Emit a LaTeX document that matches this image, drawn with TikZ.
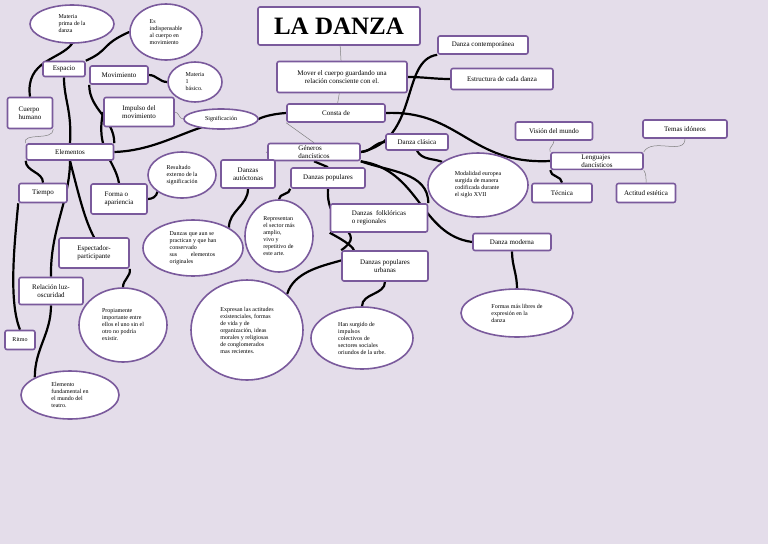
\documentclass[tikz,border=0pt]{standalone}
\usepackage{fontspec}
\setmainfont{Liberation Serif}
\usetikzlibrary{shapes.geometric}
\definecolor{bg}{HTML}{E4DDEA}
\definecolor{pur}{HTML}{7A5A9C}
\pgfdeclarelayer{back}\pgfdeclarelayer{edges}
\pgfsetlayers{back,edges,main}
\begin{document}
\begin{tikzpicture}[x=1pt,y=-1pt,
 bx/.style={draw=pur,line width=1.6pt,fill=white,rounded corners=2pt,font=\fontsize{7}{8}\selectfont,align=center,inner sep=2pt},
 el/.style={ellipse,draw=pur,line width=1.6pt,fill=white,font=\fontsize{6}{7}\selectfont,align=left,inner sep=0pt},
 tk/.style={line width=2.2pt,black},
 tn/.style={line width=0.5pt,gray}]
\begin{pgfonlayer}{back}
\fill[bg] (0,0) rectangle (768,544);
\end{pgfonlayer}
\useasboundingbox (0,0) rectangle (768,544);
% top
\node[bx,minimum width=162,minimum height=38,font=\fontsize{25}{27}\selectfont\bfseries] (title) at (339,26) {LA DANZA};
\node[bx,minimum width=130,minimum height=31] (mover) at (342,77) {Mover el cuerpo guardando una\\relación consciente con el.};
\node[bx,minimum width=98,minimum height=18] (consta) at (336,113) {Consta de};
\node[bx,minimum width=92,minimum height=16,align=left] (generos) at (314,152) {Géneros\\dancísticos};
\node[bx,minimum width=90,minimum height=18] (contemp) at (483,45) {Danza contemporánea};
\node[bx,minimum width=102,minimum height=21] (estruct) at (502,79) {Estructura de cada danza};
\node[bx,minimum width=62,minimum height=16] (clasica) at (417,142) {Danza clásica};
\node[el,minimum width=100,minimum height=64] (modal) at (478,185) {Modalidad europea\\surgida de manera\\codificada durante\\el siglo XVII};
\node[bx,minimum width=77,minimum height=18] (vision) at (554,131) {Visión del mundo};
\node[bx,minimum width=84,minimum height=18] (temas) at (685,129) {Temas idóneos};
\node[bx,minimum width=92,minimum height=15,align=left] (leng) at (597,161) {Lenguajes\\dancísticos};
\node[bx,minimum width=60,minimum height=19] (tecnica) at (562,193) {Técnica};
\node[bx,minimum width=59,minimum height=19] (actitud) at (646,193) {Actitud estética};
\node[bx,minimum width=78,minimum height=17] (moderna) at (512,242) {Danza moderna};
\node[el,minimum width=112,minimum height=48] (formas) at (517,313) {Formas más libres de\\ expresión en la\\danza};
\node[bx,minimum width=54,minimum height=28] (autoc) at (248,174) {Danzas\\autóctonas};
\node[bx,minimum width=74,minimum height=20] (popul) at (328,178) {Danzas populares};
\node[bx,minimum width=97,minimum height=28,align=left] (folk) at (379,218) {Danzas\ \ folklóricas\\o regionales};
\node[bx,minimum width=86,minimum height=30] (urb) at (385,266) {Danzas populares\\urbanas};
\node[el,minimum width=68,minimum height=72] (repr) at (279,236) {Representan\\el sector más\\ amplio,\\vivo y\\repetitivo de\\este arte.};
\node[el,minimum width=100,minimum height=56] (aun) at (193,248) {Danzas que aun se\\practican y que han\\conservado\\sus \quad\quad elementos\\originales};
\node[el,minimum width=112,minimum height=100] (expr) at (247,330) {Expresan las actitudes\\ existenciales, formas\\de vida y de\\organización, ideas\\morales y religiosas\\de conglomerados\\mas recientes.};
\node[el,minimum width=102,minimum height=62] (han) at (362,338) {Han surgido de\\impulsos\\colectivos de\\sectores sociales\\oriundos de la urbe.};
% left
\node[bx,minimum width=87,minimum height=16] (elem) at (70,152) {Elementos};
\node[bx,minimum width=45,minimum height=31,align=left] (cuerpo) at (30,113) {Cuerpo\\humano};
\node[bx,minimum width=42,minimum height=15] (espacio) at (64,69) {Espacio};
\node[bx,minimum width=58,minimum height=18] (movim) at (119,75) {Movimiento};
\node[el,minimum width=84,minimum height=38] (mprima) at (72,24) {Materia\\prima de la\\danza};
\node[el,minimum width=72,minimum height=56] (indisp) at (166,32) {Es\\indispensable\\al cuerpo en\\movimiento};
\node[el,minimum width=54,minimum height=40] (m1) at (195,82) {Materia\\1\\básico.};
\node[bx,minimum width=70,minimum height=29] (impulso) at (139,112) {Impulso del\\movimiento};
\node[el,minimum width=74,minimum height=20] (signif) at (221,119) {Significación};
\node[bx,minimum width=48,minimum height=19] (tiempo) at (43,193) {Tiempo};
\node[bx,minimum width=56,minimum height=30,align=left] (forma) at (119,199) {Forma o\\apariencia};
\node[el,minimum width=68,minimum height=46] (result) at (182,175) {Resultado\\externo de la\\significación};
\node[bx,minimum width=70,minimum height=30] (espect) at (94,253) {Espectador-\\participante};
\node[bx,minimum width=64,minimum height=27] (relac) at (51,291) {Relación luz-\\oscuridad};
\node[el,minimum width=88,minimum height=74] (propia) at (123,325) {Propiamente\\importante entre\\ellos el uno sin el\\ otro no podría\\existir.};
\node[bx,minimum width=30,minimum height=19,font=\fontsize{6}{7}\selectfont] (ritmo) at (20,340) {Ritmo};
\node[el,minimum width=98,minimum height=48] (fund) at (70,395) {Elemento\\fundamental en\\el mundo del\\teatro.};
% connectors
\begin{pgfonlayer}{edges}
\draw[tn] (title) -- (mover);
\draw[tn] (mover) -- (consta);
\draw[tn] (consta.south west) -- (generos.north);
\draw[tk] (mover.east) to[out=0,in=180] (estruct.west);
\draw[tk] (generos.east) .. controls (420,140) and (400,60) .. (contemp.south west);
\draw[tk] (consta.east) .. controls (460,110) and (470,165) .. (leng.west);
\draw[tk] (generos.east) to[out=0,in=180] (clasica.west);
\draw[tk] (clasica.south) to[out=-60,in=160] (modal.north west);
\draw[tk] (generos.south east) .. controls (420,170) and (420,235) .. (moderna.west);
\draw[tk] (moderna.south) to[out=-90,in=90] (formas.north);
\draw[tn] (leng.north west) to[out=120,in=-90] (vision.south);
\draw[tn] (leng.north east) to[out=60,in=-90] (temas.south);
\draw[tn] (leng.south east) to[out=-60,in=90] (actitud.north);
\draw[tk] (leng.south west) to[out=-90,in=90] (tecnica.north);
\draw[tn] (generos.west) to[out=180,in=60] (autoc.north east);
\draw[tk] (generos.south) -- (popul.north);
\draw[tk] (generos.south east) to[out=-20,in=90] (folk.north east);
\draw[tk] (autoc.south) to[out=-90,in=90] (aun.north east);
\draw[tk] (popul.south west) to[out=-90,in=90] (repr.north);
\draw[tk] (popul.south) .. controls (325,230) and (370,230) .. (urb.north west);
\draw[tk] (folk.south west) .. controls (400,270) and (300,250) .. (expr.north east);
\draw[tk] (urb.south) to[out=-90,in=90] (han.north);
\draw[tk] (elem.east) .. controls (170,150) and (200,115) .. (signif.east) .. controls (260,118) and (270,114) .. (consta.west);
\draw[tn] (impulso.east) to[out=0,in=180] (signif.west);
\draw[tn] (elem.north west) to[out=110,in=-90] (cuerpo.south east);
\draw[tk] (cuerpo.north) .. controls (25,60) and (60,60) .. (mprima.south);
\draw[tk] (elem.north) .. controls (72,110) and (64,100) .. (espacio.south);
\draw[tk] (espacio.north east) .. controls (110,50) and (100,45) .. (indisp.west);
\draw[tk] (elem.north east) to[out=90,in=-90] (movim.south west);
\draw[tk] (movim.east) to[out=0,in=180] (m1.west);
\draw[tk] (impulso.west) .. controls (95,150) and (115,160) .. (forma.north);
\draw[tk] (forma.east) to[out=0,in=-100] (result.south west);
\draw[tk] (elem.south west) to[out=-90,in=90] (tiempo.north);
\draw[tk] (tiempo.south west) .. controls (15,240) and (8,300) .. (ritmo.north);
\draw[tk] (elem.south) .. controls (70,200) and (50,230) .. (relac.north);
\draw[tk] (elem.south) .. controls (80,200) and (85,220) .. (espect.north);
\draw[tk] (espect.south east) to[out=-80,in=90] (propia.north);
\draw[tk] (relac.south) to[out=-90,in=90] (fund.north west);
\end{pgfonlayer}
\end{tikzpicture}
\end{document}
